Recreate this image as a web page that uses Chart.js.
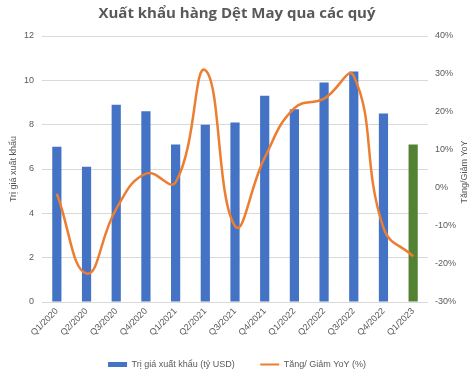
<!DOCTYPE html>
<html>
<head>
<meta charset="utf-8">
<script src="https://cdn.jsdelivr.net/npm/chart.js@4.4.0/dist/chart.umd.min.js"></script>
<style>
html,body{margin:0;padding:0;background:#fff;}
#wrap{width:474px;height:377px;position:relative;}
</style>
</head>
<body>
<div id="wrap"><canvas id="c" width="474" height="377"></canvas></div>
<script>
const categories = ["Q1/2020","Q2/2020","Q3/2020","Q4/2020","Q1/2021","Q2/2021","Q3/2021","Q4/2021","Q1/2022","Q2/2022","Q3/2022","Q4/2022","Q1/2023"];
const exportValues = [7.0, 6.1, 8.9, 8.6, 7.1, 8.0, 8.1, 9.3, 8.7, 9.9, 10.4, 8.5, 7.1];
const yoyPercent = [-1.5, -22.5, -5.5, 3.8, 1.5, 31, -10, 8, 21, 23.5, 29.5, -10.5, -18];
const leftTicks = [0, 2, 4, 6, 8, 10, 12];
const rightTicks = [-30, -20, -10, 0, 10, 20, 30, 40];

const barColors = exportValues.map((v, i) => i === exportValues.length - 1 ? '#548235' : '#4472C4');
const gray = '#595959';
const gridColor = '#d9d9d9';

const rightTitlePlugin = {
  id: 'rightTitle',
  afterDraw(chart) {
    const ctx = chart.ctx;
    ctx.save();
    ctx.translate(465, 172);
    ctx.rotate(-Math.PI / 2);
    ctx.font = '9px "Liberation Sans", Arial, sans-serif';
    ctx.fillStyle = gray;
    ctx.textAlign = 'center';
    ctx.textBaseline = 'middle';
    ctx.fillText('Tăng/Giảm YoY', 0, 0);
    ctx.restore();
  }
};

new Chart(document.getElementById('c'), {
  data: {
    labels: categories,
    datasets: [
      {
        type: 'line',
        label: 'Tăng/ Giảm YoY (%)',
        data: yoyPercent,
        yAxisID: 'y2',
        borderColor: '#ED7D31',
        backgroundColor: '#ED7D31',
        borderWidth: 2.5,
        pointRadius: 0,
        tension: 0.45,
        fill: false,
        order: 0
      },
      {
        type: 'bar',
        label: 'Trị giá xuất khẩu (tỷ USD)',
        data: exportValues,
        yAxisID: 'y',
        backgroundColor: barColors,
        borderWidth: 0,
        categoryPercentage: 1,
        barPercentage: 0.31,
        order: 1
      }
    ]
  },
  options: {
    responsive: false,
    animation: false,
    layout: { padding: { left: 0, right: 0, top: 0, bottom: -2 } },
    plugins: {
      title: {
        display: true,
        text: 'Xuất khẩu hàng Dệt May qua các quý',
        color: gray,
        font: { family: '"Open Sans", "Noto Sans", sans-serif', size: 15, weight: 'bold' },
        padding: { top: 5, bottom: 13 }
      },
      legend: {
        position: 'bottom',
        reverse: true,
        labels: {
          usePointStyle: true,
          pointStyleWidth: 19,
          boxHeight: 5,
          padding: 8,
          color: gray,
          font: { family: '"Liberation Sans", Arial, sans-serif', size: 9 },
          generateLabels(chart) {
            const items = Chart.defaults.plugins.legend.labels.generateLabels(chart);
            items.forEach(it => {
              const ds = chart.data.datasets[it.datasetIndex];
              if (ds.type === 'bar') { it.pointStyle = 'rect'; it.text = it.text + '       '; it.fillStyle = '#4472C4'; it.lineWidth = 0; }
              else { it.pointStyle = 'line'; it.lineWidth = 2; it.strokeStyle = '#ED7D31'; }
            });
            return items;
          }
        }
      },
      tooltip: { enabled: false }
    },
    scales: {
      x: {
        grid: { display: false, drawTicks: false },
        border: { display: false },
        ticks: {
          color: gray,
          font: { family: '"Liberation Sans", Arial, sans-serif', size: 9 },
          maxRotation: 45,
          minRotation: 45,
          padding: 4,
          autoSkip: false
        },
        afterFit(s) { s.height = 50; }
      },
      y: {
        position: 'left',
        min: 0, max: 12,
        afterBuildTicks(s) { s.ticks = leftTicks.map(v => ({ value: v })); },
        grid: { color: gridColor, drawTicks: false, lineWidth: 1 },
        border: { display: false },
        ticks: {
          color: gray,
          font: { family: '"Liberation Sans", Arial, sans-serif', size: 9 },
          padding: 8
        },
        title: {
          display: true,
          text: 'Trị giá xuất khẩu',
          color: gray,
          font: { family: '"Liberation Sans", Arial, sans-serif', size: 9 },
          padding: { top: 8, bottom: 0 }
        },
        afterFit(s) { s.width = 42; }
      },
      y2: {
        position: 'right',
        min: -30, max: 40,
        afterBuildTicks(s) { s.ticks = rightTicks.map(v => ({ value: v })); },
        grid: { display: false, drawTicks: false },
        border: { display: false },
        ticks: {
          color: gray,
          font: { family: '"Liberation Sans", Arial, sans-serif', size: 9 },
          padding: 7,
          callback: v => v + '%'
        },
        afterFit(s) { s.width = 46; }
      }
    }
  },
  plugins: [rightTitlePlugin]
});
</script>
</body>
</html>
